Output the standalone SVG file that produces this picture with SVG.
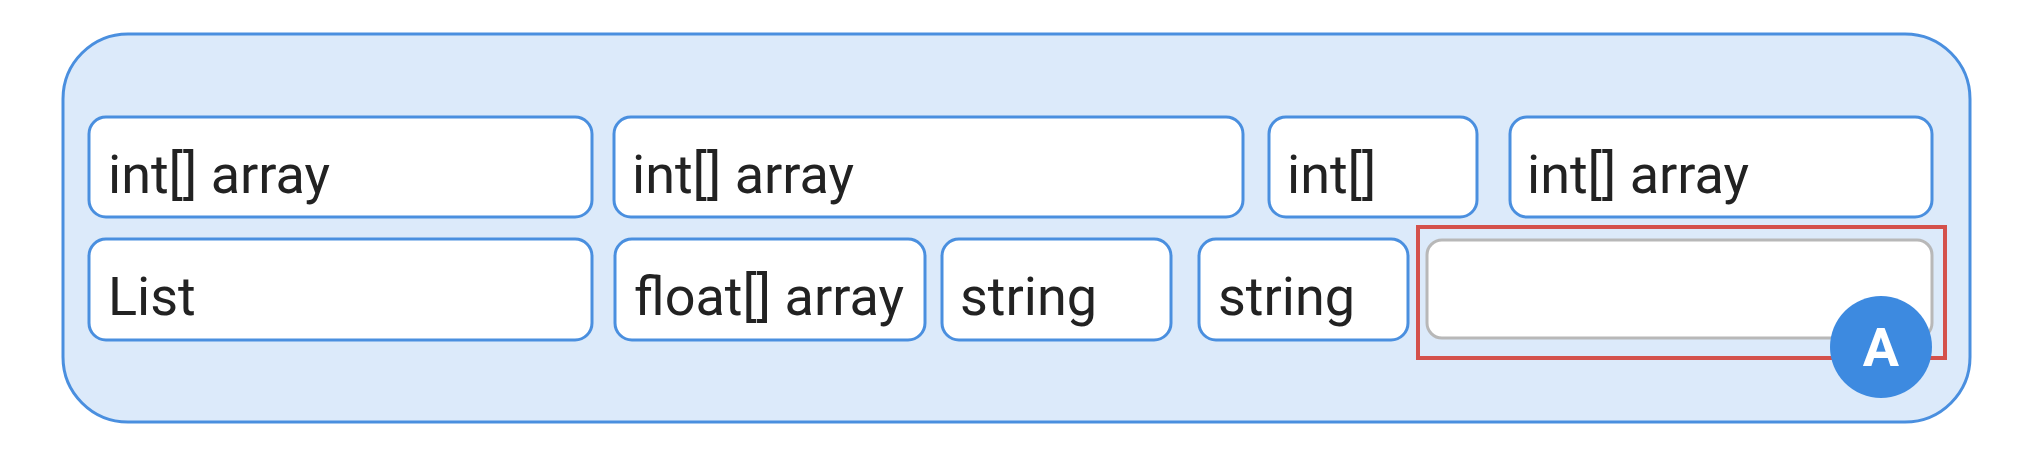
<svg xmlns="http://www.w3.org/2000/svg" width="2036" height="466" viewBox="0 0 2036 466">
  <style>
    .bg { fill: #ffffff; }
    .container { fill: #dceafa; stroke: #4a8fdf; stroke-width: 3; }
    .box { fill: #ffffff; stroke: #4a8fdf; stroke-width: 3; }
    .empty { fill: #ffffff; stroke: #b8b8b8; stroke-width: 3; }
    .label { font-family: Roboto, "Liberation Sans", sans-serif; font-size: 54px; fill: #222222; }
    .hl { fill: none; stroke: #d4514b; stroke-width: 4; }
    .badge { fill: #3d8ae0; }
    .badge-text { font-family: Roboto, "Liberation Sans", sans-serif; font-size: 54px; font-weight: bold; fill: #ffffff; text-anchor: middle; }
  </style>
  <rect class="bg" x="0" y="0" width="2036" height="466"/>
  <g id="container">
    <rect class="container" x="63" y="34" width="1907" height="388" rx="65" ry="65"/>
  </g>
  <g id="n1"><rect class="box" x="89" y="117" width="503" height="100" rx="17"/><text class="label" x="108" y="193">int[] array</text></g>
  <g id="n2"><rect class="box" x="614" y="117" width="629" height="100" rx="17"/><text class="label" x="632" y="193">int[] array</text></g>
  <g id="n3"><rect class="box" x="1269" y="117" width="208" height="100" rx="17"/><text class="label" x="1287" y="193">int[]</text></g>
  <g id="n4"><rect class="box" x="1510" y="117" width="422" height="100" rx="17"/><text class="label" x="1527" y="193">int[] array</text></g>
  <g id="n5"><rect class="box" x="89" y="239" width="503" height="101" rx="17"/><text class="label" x="108" y="315">List</text></g>
  <g id="n6"><rect class="box" x="615" y="239" width="310" height="101" rx="17"/><text class="label" x="634" y="315">float[] array</text></g>
  <g id="n7"><rect class="box" x="942" y="239" width="229" height="101" rx="17"/><text class="label" x="960" y="315">string</text></g>
  <g id="n8"><rect class="box" x="1199" y="239" width="209" height="101" rx="17"/><text class="label" x="1218" y="315">string</text></g>
  <g id="n9"><rect class="empty" x="1427" y="240" width="505" height="98" rx="15"/></g>
  <g id="connectors"></g>
  <g id="highlight">
    <rect class="hl" x="1418" y="227" width="527" height="131"/>
    <circle class="badge" cx="1881" cy="347" r="51"/>
    <text class="badge-text" x="1881" y="366">A</text>
  </g>
</svg>
